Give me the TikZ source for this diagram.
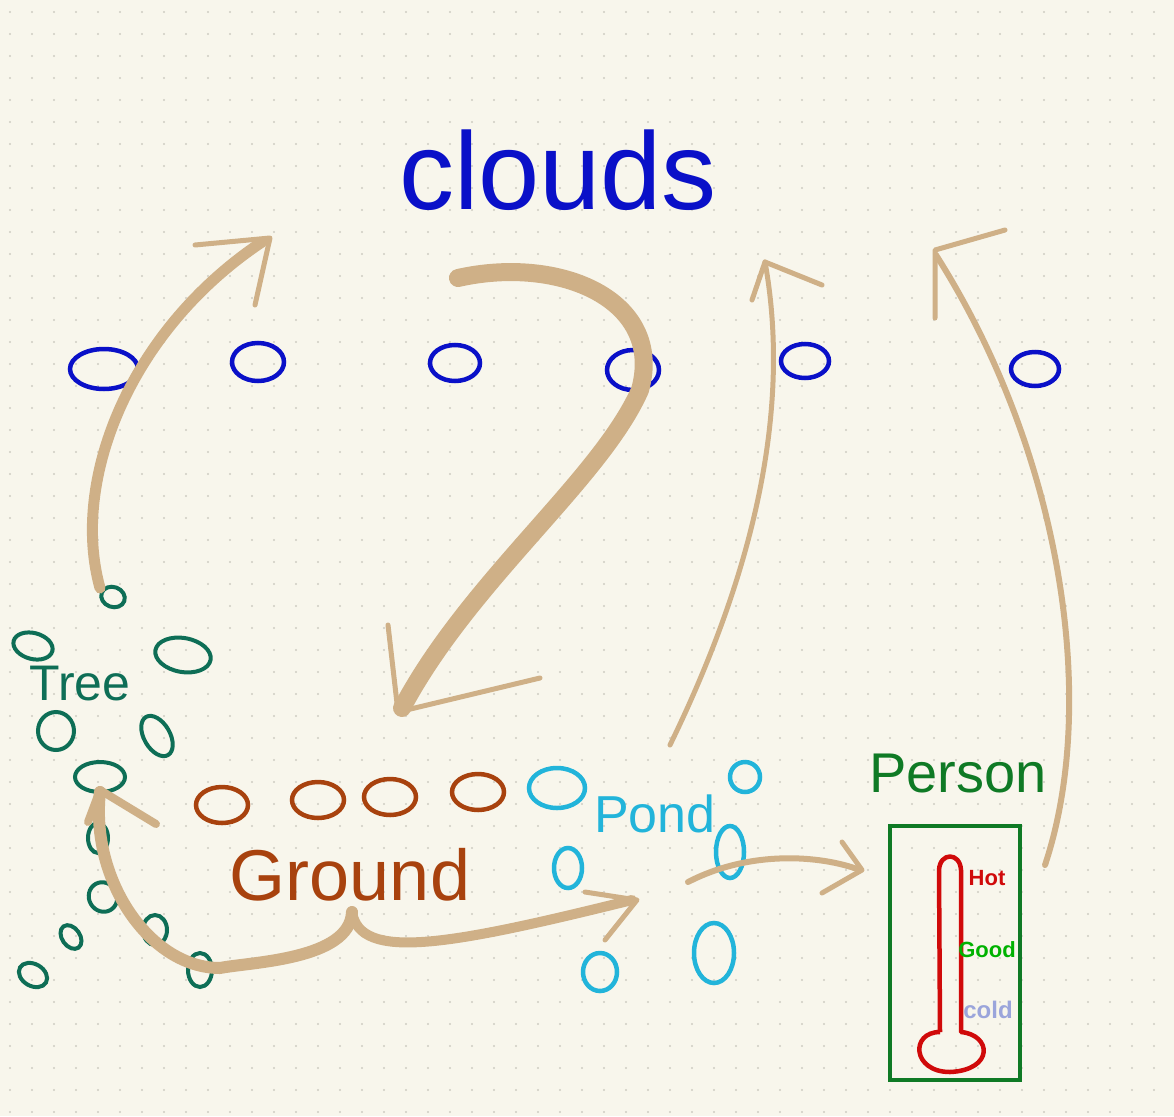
\documentclass[tikz,border=0pt]{standalone}
\usepackage{fontspec}
\setmainfont{Liberation Sans}
\definecolor{bg}{HTML}{F8F6EC}
\definecolor{tan}{HTML}{CFB087}
\definecolor{cblue}{HTML}{0A10C8}
\definecolor{tgreen}{HTML}{0E6E56}
\definecolor{gbrown}{HTML}{A8420E}
\definecolor{pcyan}{HTML}{22B4DA}
\definecolor{pgreen}{HTML}{0F7A25}
\definecolor{tred}{HTML}{D00A0A}
\definecolor{dotc}{HTML}{CFCDC2}
\begin{document}
\begin{tikzpicture}[x=1pt,y=-1pt,
  el/.style={line width=4.5pt},
  arr/.style={tan,line width=7pt,line cap=round,line join=round},
  hd/.style={tan,line width=5pt,line cap=round,line join=round},
  lbl/.style={inner sep=0pt}]
\useasboundingbox (0,0) rectangle (1174,1116);
\fill[bg] (0,0) rectangle (1174,1116);
\foreach \i in {0,...,53} \foreach \j in {0,...,50} \fill[dotc] (10+22*\i,12+22*\j) circle (1.1);
% clouds
\node[lbl,text=cblue,font=\fontsize{110}{110}\selectfont] (clouds) at (558,170) {clouds};
\foreach \x/\y/\a/\b in {104/369/34/20,258/362/26/19,455/363/25/18,633/370/26/20,805/361/24/17,1035/369/24/17}
  \draw[cblue,el] (\x,\y) ellipse [x radius=\a,y radius=\b];
% tree
\foreach \x/\y/\a/\b/\r in {113/597/12/10/-20,33/646/20/13/-15,183/655/28/17/-10,56/731/18/19/0,157/736/13/22/30,100/777/25/15/0,98/838/10/15/0,103/897/14/15/30,71/937/9/13/35,155/930/12/15/0,33/975/15/11/-30,200/970/12/17/0}
  \draw[tgreen,line width=4pt,rotate around={\r:(\x,\y)}] (\x,\y) ellipse [x radius=\a,y radius=\b];
\node[lbl,text=tgreen,font=\fontsize{50}{50}\selectfont] (tree) at (80,684) {Tree};
% ground
\foreach \x/\y in {222/805,318/800,390/797,478/792}
  \draw[gbrown,el] (\x,\y) ellipse [x radius=26,y radius=18];
\node[lbl,text=gbrown,font=\fontsize{72}{72}\selectfont] (ground) at (350,875) {Ground};
% pond
\foreach \x/\y/\a/\b in {557/788/28/20,745/777/15/15,568/868/14/20,730/852/14/26,600/972/17/19,714/953/20/30}
  \draw[pcyan,el] (\x,\y) ellipse [x radius=\a,y radius=\b];
\node[lbl,text=pcyan,font=\fontsize{52}{52}\selectfont] (pond) at (655,814) {Pond};
% person
\node[lbl,text=pgreen,font=\fontsize{56}{56}\selectfont] (person) at (958,773) {Person};
\node[draw=pgreen,line width=4.5pt,minimum width=130,minimum height=254,inner sep=0pt] (box) at (955,953) {};
\draw[tred,line width=4.5pt,line join=round] (940,1032) -- (939,870) .. controls (940,852) and (960,852) .. (961,870) -- (961,1032) .. controls (992,1035) and (994,1070) .. (950,1072) .. controls (912,1072) and (910,1032) .. (940,1032);
\node[lbl,text=tred,font=\bfseries\fontsize{22}{22}\selectfont] (hot) at (987,878) {Hot};
\node[lbl,text=green!70!black,font=\bfseries\fontsize{22}{22}\selectfont] (good) at (987,950) {Good};
\node[lbl,text=cyan!30!blue!40,font=\bfseries\fontsize{24}{24}\selectfont] (cold) at (988,1010) {cold};
% arrows
\draw[arr,line width=11pt] (100,588) .. controls (70,480) and (130,330) .. (262,242);
\draw[hd] (195,245) -- (270,238) -- (255,305);
\draw[arr,line width=18pt] (458,278) .. controls (560,255) and (665,300) .. (640,390) .. controls (600,480) and (470,580) .. (402,708);
\draw[hd] (388,625) -- (398,712) -- (540,678);
\draw[arr,line width=5pt] (670,745) .. controls (760,560) and (790,400) .. (765,262);
\draw[hd] (752,300) -- (765,262) -- (822,285);
\draw[arr,line width=6pt] (1045,865) .. controls (1100,700) and (1060,450) .. (936,255);
\draw[hd] (935,318) -- (935,250) -- (1005,230);
\draw[arr,line width=12pt] (352,912) .. controls (350,960) and (250,962) .. (220,968) .. controls (150,968) and (90,880) .. (100,792);
\draw[hd,line width=8pt] (88,822) -- (100,790) -- (156,824);
\draw[arr,line width=10pt] (352,912) .. controls (360,962) and (450,945) .. (632,900);
\draw[hd] (585,892) -- (637,900) -- (605,940);
\draw[arr,line width=6pt] (688,882) .. controls (750,850) and (820,855) .. (860,870);
\draw[hd] (822,893) -- (862,870) -- (842,842);
\end{tikzpicture}
\end{document}
